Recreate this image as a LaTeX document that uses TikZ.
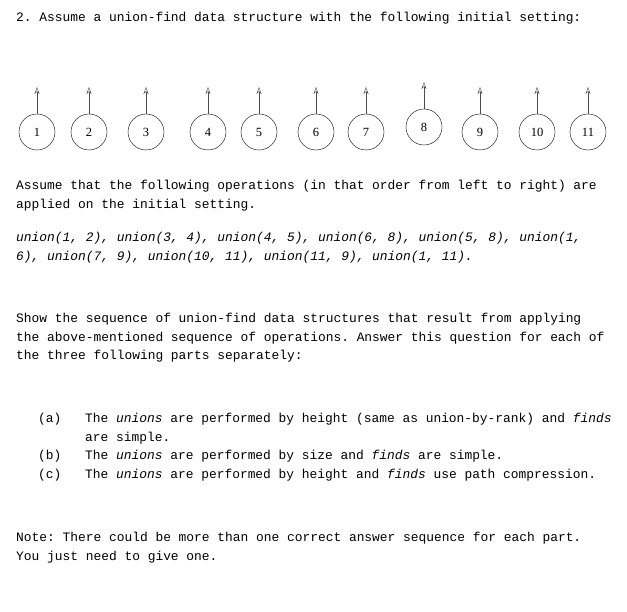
\documentclass[tikz,border=0pt]{standalone}
\usepackage{fontspec}
\setmainfont{Liberation Serif}
\setmonofont{Liberation Mono}
\usetikzlibrary{arrows.meta}
\tikzstyle{elem} = [draw, circle, minimum size=36pt, inner sep=0pt, font=\rmfamily\fontsize{12.5}{12.5}\selectfont]
\tikzstyle{up} = [draw, gray!60!black, -{Stealth[length=7pt,width=5pt,open]}]
\tikzstyle{para} = [anchor=north west, inner sep=0pt, text width=596pt, align=justify, font=\ttfamily\fontsize{12.9}{18.7}\selectfont]
\begin{document}
\begin{tikzpicture}[x=1pt, y=-1pt]
    \useasboundingbox (0,0) rectangle (627,612);
    % initial forest
    \foreach \n/\x/\y/\dy in {1/37/132/0, 2/89/132/0, 3/146/132/0, 4/208/132/0, 5/259/132/0,
                              6/316/132/0, 7/366/132/6, 8/424/127/0, 9/480/132/0, 10/537/132/0, 11/588/132/0}{
        \node [elem] (e\n) at (\x,\y) {\raisebox{-\dy pt}{\n}};
        \coordinate (t\n) at (\x,\y-45);
        \path [up] (e\n.north) -- (t\n);
    }
    % text
    \node [para] (q) at (16,12) {2. Assume a union-find data structure with the following initial setting:};
    \node [para] (ops) at (16,180) {Assume that the following operations (in that order from left to right) are applied on the initial setting.};
    \node [para] (seq) at (16,232) {\itshape union(1, 2), union(3, 4), union(4, 5), union(6, 8), union(5, 8), union(1, 6), union(7, 9), union(10, 11), union(11, 9), union(1, 11).};
    \node [para] (show) at (16,313) {Show the sequence of union-find data structures that result from applying the above-mentioned sequence of operations. Answer this question for each of the three following parts separately:};
    \node [para, text width=20pt] (la) at (38,413) {(a)};
    \node [para, text width=527pt] (pa) at (85,413) {The \textit{unions} are performed by height (same as union-by-rank) and \textit{finds} are simple.};
    \node [para, text width=20pt] (lb) at (38,450) {(b)};
    \node [para, text width=527pt] (pb) at (85,450) {The \textit{unions} are performed by size and \textit{finds} are simple.};
    \node [para, text width=20pt] (lc) at (38,469) {(c)};
    \node [para, text width=527pt] (pc) at (85,469) {The \textit{unions} are performed by height and \textit{finds} use path compression.};
    \node [para] (note) at (16,532) {Note: There could be more than one correct answer sequence for each part. You just need to give one.};
\end{tikzpicture}
\end{document}
